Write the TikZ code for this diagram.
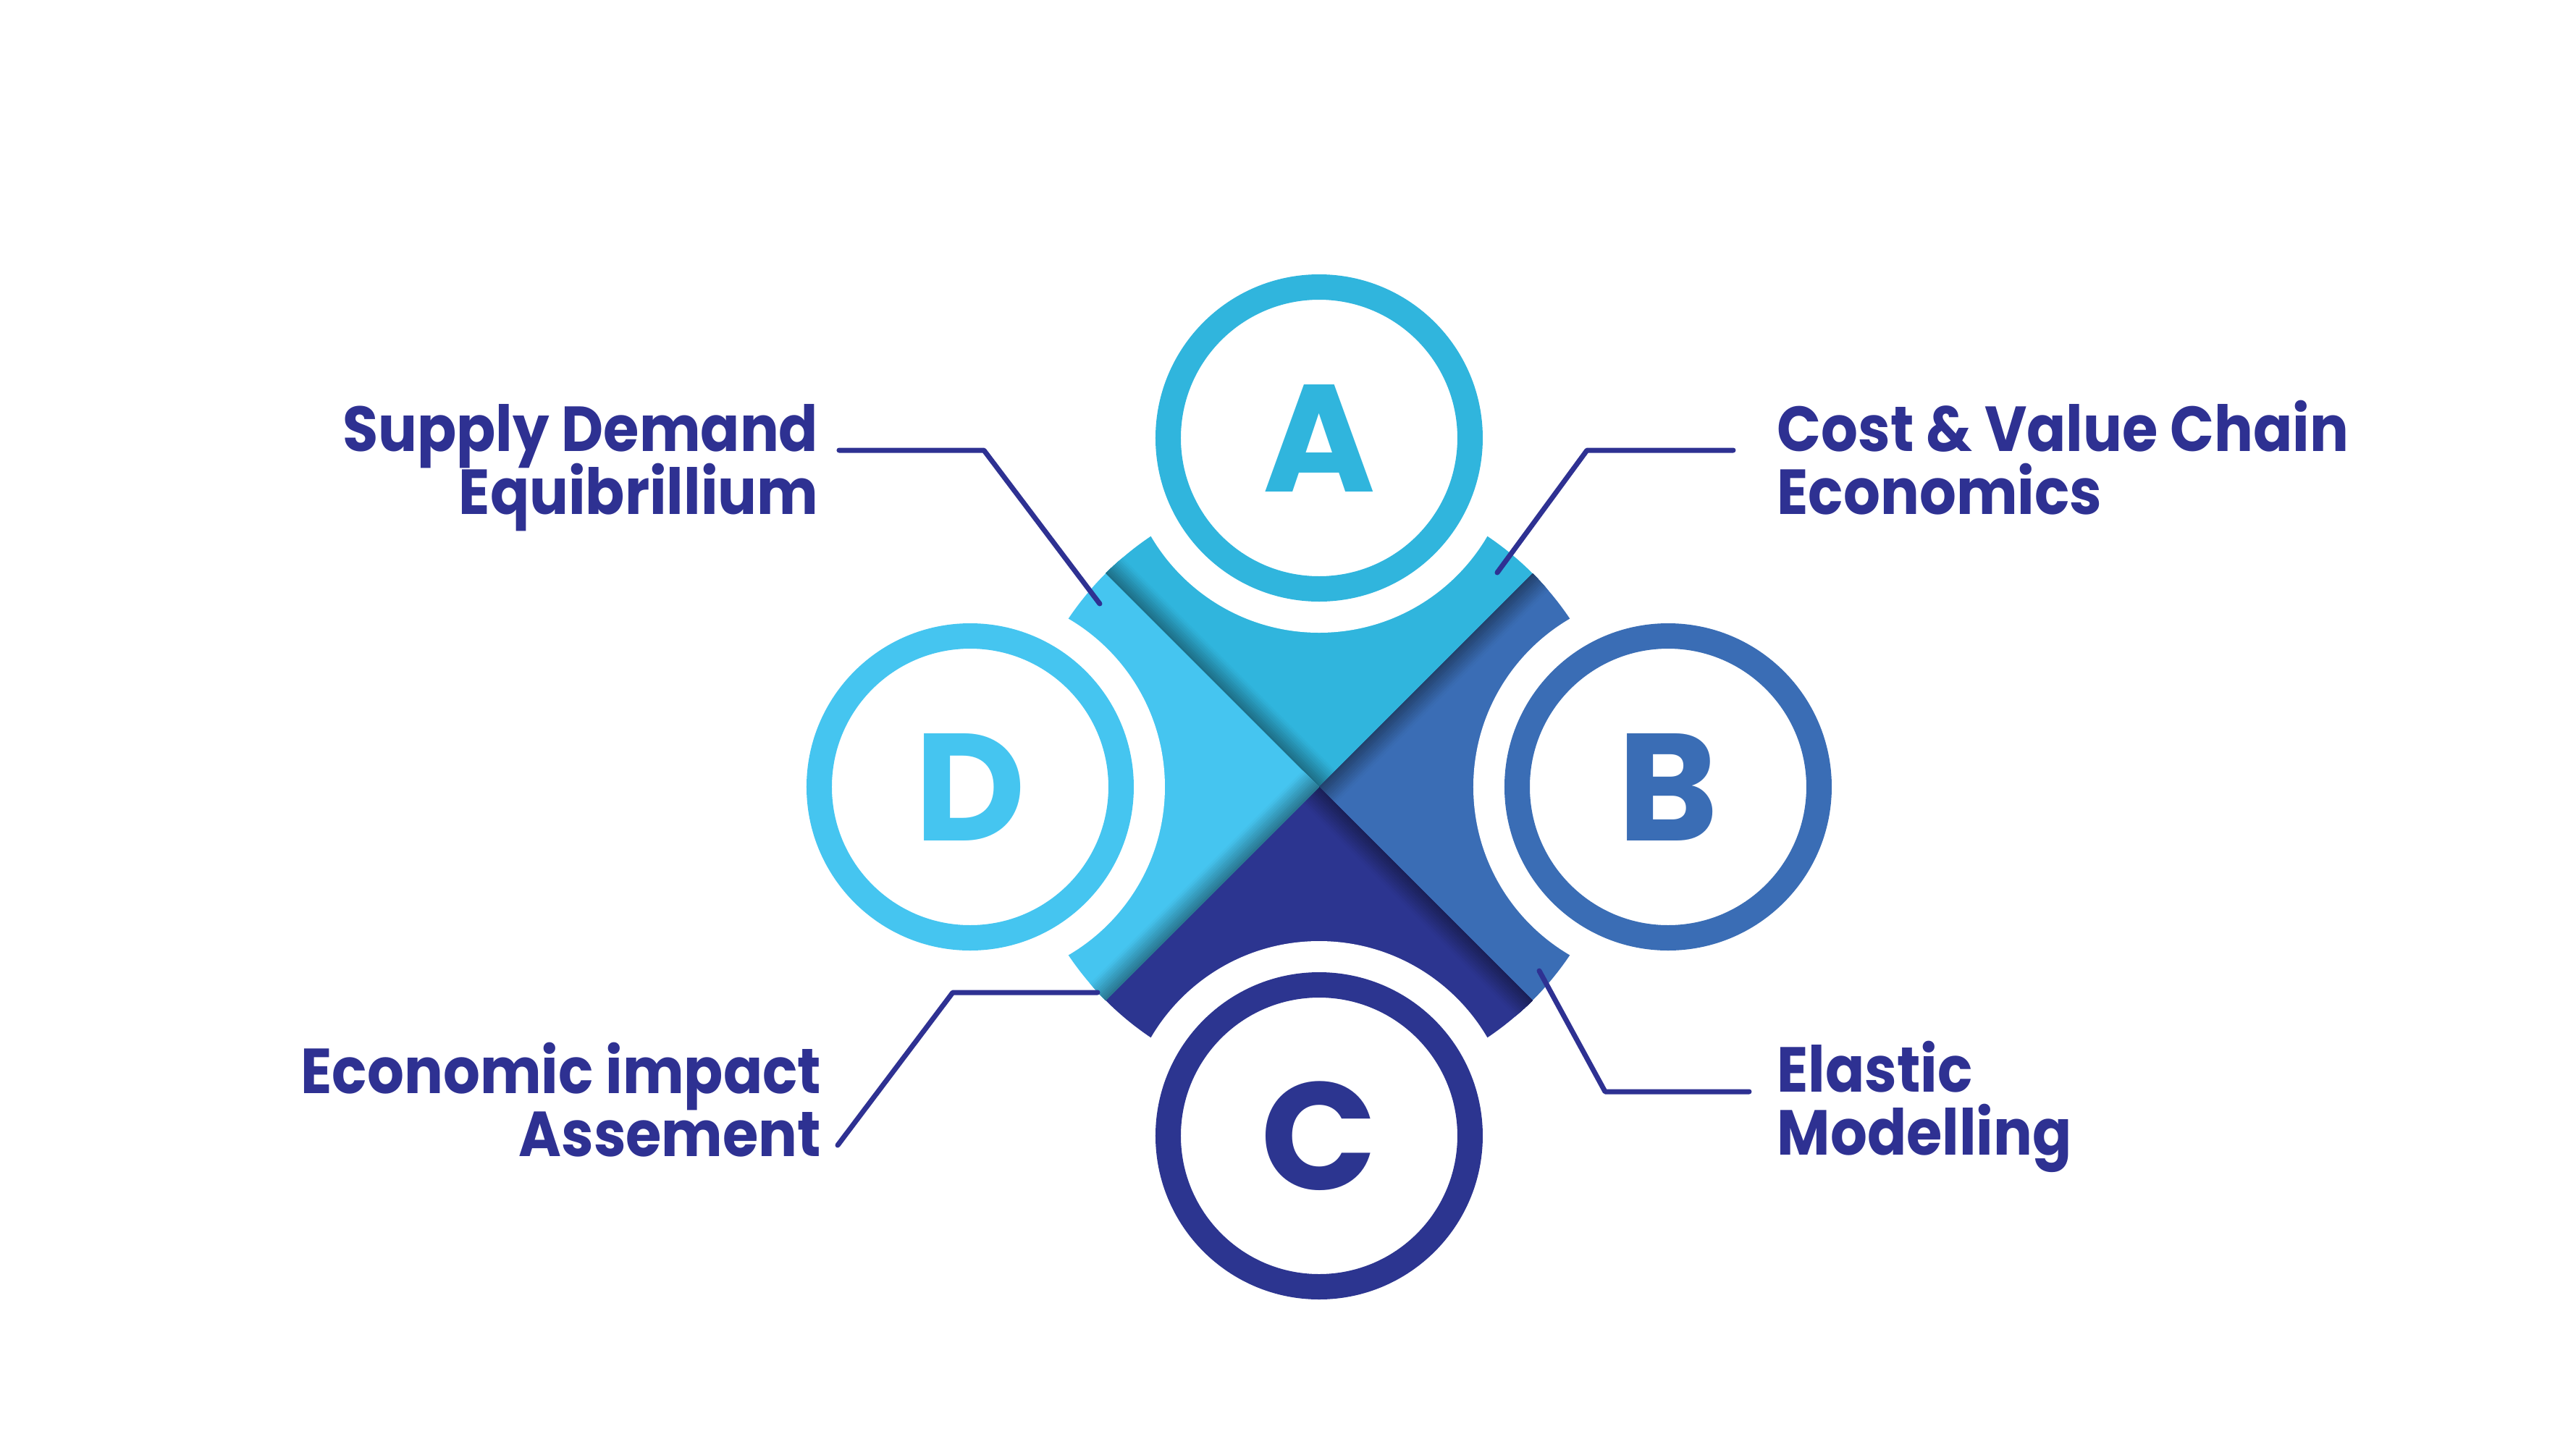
\documentclass[tikz,border=0pt]{standalone}
\usepackage{fontspec}
\setsansfont{Poppins}
\newfontfamily\labelfont{Poppins}[FakeStretch=0.91]
\newcommand\captionfont{\labelfont\bfseries\fontsize{25}{24.5}\selectfont\lineskiplimit=-100pt\relax\lineskip=0pt\relax}
\usetikzlibrary{positioning}

\definecolor{petalA}{HTML}{30B5DD}
\definecolor{petalB}{HTML}{3A6DB5}
\definecolor{petalC}{HTML}{2C3590}
\definecolor{petalD}{HTML}{45C5F0}
\definecolor{ink}{HTML}{2E3192}

\begin{document}
\begin{tikzpicture}[
		ring/.style={
			circle,
			draw=#1,
			line width=0.35cm,
			minimum size=4.17cm,
			inner sep=0pt,
			text=#1,
			font=\sffamily\bfseries\fontsize{60}{60}\selectfont
		},
		caption/.style={
			font=\captionfont,
			text=ink,
			inner sep=0pt
		},
		leader/.style={draw=ink, line width=0.07cm, line cap=round, line join=round}
		]
		\useasboundingbox (-18.22,-9.15) rectangle (17.36,10.87);
		
		% four petals with a shadow on one edge
		\begin{scope}
			\clip (0,0) circle (4.17);
			\foreach \col/\ang in {petalA/90, petalB/0, petalC/-90, petalD/180} {
				\fill[\col] (0,0) -- (\ang-45:7) -- (\ang+45:7) -- cycle;
				\begin{scope}[rotate=\ang+45]
					\foreach \i in {0,...,11} {
						\pgfmathtruncatemacro{\pct}{100-40*(\i+0.5)/12}
						\fill[\col!\pct!black] (0,0) rectangle (4.3,{-0.32*(12-\i)/12});
					}
				\end{scope}
			}
		\end{scope}
		
		\foreach \p in {(0,4.82), (4.82,0), (0,-4.82), (-4.82,0)}
			\fill[white] \p circle (2.69);
		
		\node[ring=petalA] (circA) at (0,4.82) {A};
		\node[ring=petalB] (circB) at (4.82,0) {B};
		\node[ring=petalC] (circC) at (0,-4.82) {C};
		\node[ring=petalD] (circD) at (-4.82,0) {D};
		
		% labels (base = last line)
		\node[caption, align=right, anchor=base east] (supply) at (-6.91,3.77) {Supply Demand\\Equibrillium};
		\node[caption, align=left, anchor=base west] (cost) at (6.32,3.77) {Cost \& Value Chain\\Economics};
		\node[caption, align=right, anchor=base east] (impact) at (-6.87,-5.10) {Economic impact\\Assement};
		\node[caption, align=left, anchor=base west] (elastic) at (6.32,-5.08) {Elastic\\Modelling};
		
		\coordinate (supply1) at (-6.63,4.65);
		\coordinate (supply2) at (-4.63,4.65);
		\coordinate (supply3) at (-3.03,2.53);
		\coordinate (cost1) at (5.72,4.65);
		\coordinate (cost2) at (3.70,4.65);
		\coordinate (cost3) at (2.46,2.96);
		\coordinate (impact1) at (-6.65,-4.95);
		\coordinate (impact2) at (-5.06,-2.84);
		\coordinate (impact3) at (-3.06,-2.84);
		\coordinate (elastic1) at (5.94,-4.21);
		\coordinate (elastic2) at (3.95,-4.21);
		\coordinate (elastic3) at (3.04,-2.54);
		
		\draw[leader] (supply1) -- (supply2) -- (supply3);
		\draw[leader] (cost1) -- (cost2) -- (cost3);
		\draw[leader] (impact1) -- (impact2) -- (impact3);
		\draw[leader] (elastic1) -- (elastic2) -- (elastic3);
		
	\end{tikzpicture}
\end{document}
